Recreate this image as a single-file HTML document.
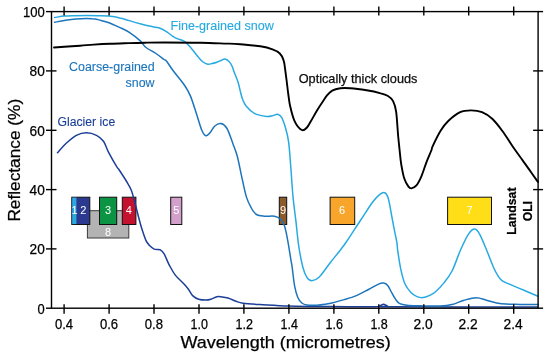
<!DOCTYPE html>
<html><head><meta charset="utf-8"><title>Spectral reflectance</title><style>html,body{margin:0;padding:0;background:#fff}</style></head><body>
<svg width="550" height="357" viewBox="0 0 550 357" style="display:block">
<rect width="550" height="357" fill="#fff"/>
<rect x="87.4" y="210.7" width="41.4" height="27.3" fill="#b3b3b3" stroke="#3a3a3a" stroke-width="1.0"/>
<rect x="71.8" y="197.2" width="18.0" height="27.3" fill="#2b3990" stroke="#111" stroke-width="1.0"/>
<rect x="72.2" y="197.6" width="4.2" height="26.5" fill="#29abe2"/>
<rect x="99.5" y="197.2" width="17.2" height="27.3" fill="#0b9444" stroke="#111" stroke-width="1.0"/>
<rect x="122.3" y="197.2" width="13.6" height="27.3" fill="#c4122f" stroke="#111" stroke-width="1.0"/>
<rect x="170.7" y="197.2" width="11.1" height="27.3" fill="#d3a0cc" stroke="#111" stroke-width="1.0"/>
<rect x="279.3" y="197.2" width="7.4" height="27.3" fill="#8c5a2b" stroke="#111" stroke-width="1.0"/>
<rect x="330.1" y="197.2" width="24.6" height="27.3" fill="#f7a62b" stroke="#111" stroke-width="1.0"/>
<rect x="447.6" y="197.2" width="43.9" height="27.3" fill="#ffde17" stroke="#111" stroke-width="1.0"/>
<g fill="none" stroke-linecap="round" stroke-linejoin="round">
<path d="M57.5,152.8C59.0,151.2 63.1,146.2 66.2,143.3C69.3,140.4 72.9,137.1 76.3,135.3C79.7,133.6 83.0,132.8 86.4,132.8C89.8,132.8 93.7,133.9 96.5,135.3C99.3,136.7 101.5,138.5 103.5,141.3C105.5,144.2 106.4,148.2 108.6,152.4C110.8,156.6 114.9,163.7 116.7,166.6C118.5,169.5 117.6,167.6 119.2,170.0C120.8,172.4 124.3,177.6 126.3,181.0C128.3,184.4 130.0,187.0 131.3,190.2C132.6,193.4 133.1,195.9 134.3,200.3C135.5,204.7 137.1,211.4 138.4,216.5C139.8,221.6 141.1,226.6 142.4,230.6C143.7,234.6 144.9,238.2 146.0,240.6C147.1,243.0 147.8,243.7 149.2,245.1C150.6,246.5 152.3,248.3 154.2,249.1C156.0,249.9 158.6,249.0 160.3,249.8C162.0,250.7 162.8,251.6 164.3,254.2C165.8,256.8 167.5,261.8 169.4,265.3C171.3,268.8 173.0,272.2 175.5,275.4C178.0,278.6 182.3,282.1 184.5,284.5C186.7,286.9 187.2,287.6 188.6,289.5C189.9,291.4 190.9,294.0 192.6,295.6C194.3,297.2 196.5,298.5 198.7,299.2C200.9,299.9 203.8,300.0 205.8,300.0C207.8,300.0 209.0,299.8 210.8,299.2C212.7,298.6 215.0,297.1 216.9,296.7C218.8,296.3 220.2,296.7 222.0,296.9C223.8,297.1 225.7,297.3 228.0,298.0C230.3,298.7 233.5,300.4 236.0,301.3C238.5,302.2 239.0,302.8 243.0,303.3C247.0,303.8 252.4,304.1 260.0,304.5C267.6,304.9 277.0,305.6 288.7,306.0C300.4,306.4 315.6,306.5 330.0,306.6C344.4,306.7 366.8,306.8 375.0,306.7C383.2,306.6 378.1,306.6 379.5,306.2C380.9,305.8 382.2,304.2 383.6,304.2C385.0,304.2 386.1,305.8 387.7,306.2C389.3,306.6 367.9,306.7 393.0,306.8C418.1,306.9 513.8,306.9 538.0,306.9" stroke="#1b3f98" stroke-width="1.5"/>
<path d="M54.6,22.3C56.2,22.0 60.9,21.0 64.5,20.4C68.1,19.8 71.4,19.2 76.0,18.9C80.6,18.6 87.8,18.4 92.0,18.7C96.2,18.9 98.3,19.8 101.0,20.4C103.7,21.0 105.0,21.3 108.2,22.5C111.4,23.7 116.5,26.0 120.0,27.6C123.5,29.2 126.0,30.2 129.3,32.4C132.6,34.6 137.2,38.1 140.0,40.6C142.8,43.1 143.3,45.4 146.0,47.5C148.7,49.6 153.0,51.5 156.0,53.5C159.0,55.5 162.3,58.2 164.0,59.5C165.7,60.8 164.8,59.1 166.4,61.0C168.0,62.9 170.4,67.0 173.4,71.0C176.4,75.0 181.6,81.1 184.5,85.3C187.4,89.5 188.6,91.5 190.6,96.4C192.6,101.3 194.8,108.9 196.7,114.5C198.5,120.1 200.2,126.5 201.7,130.0C203.2,133.6 204.5,135.3 205.8,135.8C207.2,136.3 208.3,134.6 209.8,133.0C211.3,131.4 212.9,127.6 214.8,126.0C216.7,124.4 219.0,123.2 221.0,123.6C223.0,124.0 225.0,125.1 227.0,128.5C229.0,131.9 231.3,139.4 233.0,144.0C234.7,148.6 235.8,150.9 237.2,156.0C238.6,161.1 239.7,167.5 241.2,174.3C242.7,181.1 244.6,191.0 246.3,196.6C248.0,202.2 249.6,205.0 251.3,208.0C253.0,211.0 254.2,213.1 256.4,214.5C258.6,215.9 261.4,215.9 264.4,216.2C267.4,216.5 271.8,215.7 274.5,216.2C277.2,216.7 278.9,217.5 280.6,219.2C282.3,220.9 283.4,222.8 284.6,226.3C285.8,229.8 286.7,235.0 287.7,240.4C288.7,245.8 290.0,254.3 290.7,258.6C291.4,262.9 291.3,261.6 292.0,266.2C292.7,270.8 293.7,281.2 294.7,286.4C295.7,291.6 296.6,294.7 297.8,297.5C299.0,300.3 300.3,301.8 301.8,303.0C303.3,304.2 304.4,304.6 306.9,305.0C309.4,305.4 314.0,305.3 317.0,305.2C320.0,305.1 322.5,304.7 325.0,304.3C327.5,303.9 328.8,303.8 332.0,303.0C335.2,302.2 340.1,300.8 344.2,299.6C348.3,298.4 352.3,297.3 356.4,295.6C360.4,293.9 364.8,291.4 368.5,289.5C372.2,287.6 376.1,285.2 378.6,284.1C381.1,283.0 382.1,282.9 383.6,283.1C385.1,283.3 386.4,283.9 387.7,285.5C389.0,287.1 390.3,290.2 391.7,292.6C393.1,295.0 394.4,297.8 395.8,299.6C397.2,301.5 398.0,302.8 399.8,303.7C401.6,304.6 403.5,304.9 406.9,305.3C410.3,305.7 414.5,305.7 420.0,305.8C425.5,305.9 434.7,306.2 440.0,306.0C445.3,305.8 448.0,305.6 452.0,304.6C456.0,303.6 460.1,301.3 464.2,300.2C468.3,299.1 472.7,297.8 476.4,297.8C480.1,297.8 483.1,299.4 486.5,300.3C489.9,301.2 493.4,302.4 496.6,303.0C499.9,303.6 502.1,303.9 506.0,304.1C509.9,304.3 514.7,304.3 520.0,304.4C525.3,304.5 535.0,304.5 538.0,304.5" stroke="#1c75bc" stroke-width="1.5"/>
<path d="M54.6,17.5C56.2,17.3 61.1,16.4 64.5,16.1C67.9,15.8 71.3,15.8 75.0,15.7C78.7,15.6 82.6,15.6 86.4,15.6C90.2,15.6 94.4,15.6 98.0,15.7C101.6,15.8 104.6,15.7 108.2,16.1C111.8,16.5 116.3,17.1 119.8,17.9C123.3,18.6 125.6,19.6 129.3,20.6C133.0,21.7 137.9,23.1 142.0,24.2C146.1,25.3 151.0,26.3 154.0,27.0C157.0,27.7 158.0,27.6 160.0,28.3C162.0,29.0 164.2,30.2 166.0,31.3C167.8,32.4 169.2,33.8 171.0,35.0C172.8,36.2 174.2,37.3 176.5,38.4C178.8,39.5 182.2,39.9 184.5,41.4C186.8,42.9 188.2,44.8 190.6,47.5C193.0,50.2 196.6,55.2 198.7,57.6C200.8,60.0 201.5,60.9 203.0,62.0C204.5,63.1 206.3,63.9 207.8,64.2C209.3,64.5 210.5,63.9 212.0,63.6C213.5,63.3 215.4,62.7 216.9,62.2C218.4,61.7 219.7,61.0 221.0,60.5C222.3,60.0 223.7,58.8 225.0,59.0C226.3,59.2 227.8,60.3 229.0,61.5C230.2,62.7 231.1,64.1 232.0,66.0C232.9,67.9 233.5,70.3 234.5,73.0C235.5,75.7 237.0,78.8 238.0,82.0C239.0,85.2 239.8,89.2 240.5,92.0C241.2,94.8 241.5,96.6 242.5,99.0C243.5,101.4 244.3,103.9 246.3,106.3C248.3,108.7 250.9,111.6 254.3,113.3C257.7,115.0 263.4,116.0 266.5,116.4C269.6,116.8 271.1,115.9 273.0,115.6C274.9,115.2 276.2,114.0 277.6,114.3C279.0,114.6 280.2,115.0 281.6,117.4C283.0,119.8 284.5,124.3 285.7,128.5C286.9,132.7 287.8,135.7 288.7,142.6C289.6,149.5 290.3,161.0 291.0,170.0C291.7,179.0 292.2,188.2 293.0,196.6C293.8,205.0 294.8,211.9 295.8,220.2C296.8,228.5 297.6,238.7 298.8,246.5C300.0,254.3 301.5,261.9 302.8,267.0C304.1,272.1 305.4,275.0 306.9,277.3C308.4,279.6 309.9,280.7 311.9,280.7C313.9,280.7 316.0,280.2 319.0,277.3C322.0,274.4 326.5,267.5 330.0,263.0C333.5,258.5 337.5,253.7 340.2,250.2C342.9,246.7 342.9,246.9 346.3,242.0C349.7,237.1 356.0,227.1 360.4,220.5C364.8,213.9 369.3,206.7 372.5,202.3C375.7,198.0 377.8,196.0 379.8,194.4C381.8,192.8 383.3,192.2 384.7,192.7C386.1,193.2 387.0,194.6 388.0,197.5C389.0,200.4 389.8,205.6 390.7,210.4C391.6,215.2 392.7,221.3 393.7,226.6C394.7,231.9 396.1,237.9 396.8,242.0C397.5,246.1 397.1,246.6 397.8,251.2C398.5,255.8 399.6,263.9 400.8,269.3C402.0,274.7 403.1,279.6 404.8,283.5C406.5,287.4 408.9,290.4 410.9,292.6C412.9,294.8 415.0,295.8 417.0,296.6C419.0,297.4 420.8,297.8 423.0,297.6C425.2,297.4 428.0,296.1 430.0,295.2C432.0,294.3 432.8,294.1 435.2,292.0C437.6,289.9 441.3,286.2 444.2,282.6C447.1,279.0 449.6,275.9 452.3,270.5C455.0,265.1 457.7,256.4 460.4,250.3C463.1,244.2 466.1,237.6 468.5,234.1C470.9,230.6 472.6,229.1 474.5,229.1C476.4,229.1 477.6,230.6 479.6,234.1C481.6,237.6 484.4,244.7 486.7,250.3C489.0,255.9 491.9,263.7 493.7,267.8C495.5,271.9 496.2,273.1 497.6,275.2C499.0,277.3 499.9,279.1 502.0,280.6C504.1,282.1 506.3,282.8 510.0,284.4C513.7,286.0 519.3,288.3 524.0,290.3C528.7,292.3 535.7,295.2 538.0,296.2" stroke="#27aae1" stroke-width="1.5"/>
<path d="M54.0,47.5C58.3,47.2 73.4,46.2 80.0,45.7C86.6,45.2 88.6,44.9 93.6,44.6C98.6,44.3 104.1,44.0 110.0,43.8C115.9,43.5 123.2,43.3 129.0,43.1C134.8,42.9 139.0,42.8 145.0,42.7C151.0,42.6 155.7,42.5 165.0,42.5C174.3,42.5 190.4,42.6 200.7,42.8C211.0,43.0 220.4,43.4 227.0,43.6C233.6,43.8 234.6,43.8 240.2,44.2C245.8,44.7 255.0,45.4 260.4,46.3C265.8,47.1 269.3,48.1 272.5,49.3C275.7,50.5 277.8,51.4 279.6,53.3C281.5,55.1 282.7,57.5 283.6,60.4C284.6,63.3 284.8,66.9 285.3,70.5C285.8,74.1 286.3,77.9 286.8,82.0C287.3,86.1 287.8,91.0 288.4,95.0C289.0,99.0 289.1,101.9 290.2,106.3C291.2,110.7 292.8,117.5 294.7,121.4C296.6,125.4 299.8,129.0 301.8,130.0C303.8,131.0 305.4,129.0 306.9,127.5C308.4,126.0 309.3,123.8 311.0,121.0C312.7,118.2 315.0,113.8 317.0,110.5C319.0,107.2 321.3,103.7 323.0,101.2C324.7,98.7 325.5,97.2 327.0,95.4C328.5,93.6 330.0,91.8 332.2,90.6C334.4,89.4 337.3,88.7 340.3,88.3C343.3,87.9 346.0,88.0 350.4,88.3C354.8,88.6 361.6,89.5 366.6,90.3C371.7,91.1 377.1,92.3 380.7,93.3C384.3,94.2 385.9,94.7 388.0,96.0C390.1,97.3 391.7,98.4 393.1,101.1C394.5,103.8 395.4,106.3 396.2,112.2C397.0,118.1 397.6,130.2 398.2,136.5C398.8,142.8 399.1,145.4 399.6,150.0C400.1,154.6 400.4,159.4 401.2,164.1C402.0,168.8 403.0,174.6 404.2,178.3C405.4,182.0 407.1,184.7 408.3,186.4C409.5,188.1 410.0,188.6 411.3,188.4C412.6,188.2 414.7,187.4 416.4,185.4C418.1,183.4 419.7,180.2 421.4,176.3C423.1,172.4 424.8,166.5 426.5,162.1C428.2,157.7 430.5,152.6 431.5,150.0C432.5,147.4 431.0,149.8 432.5,146.6C434.0,143.4 438.0,135.0 440.6,130.8C443.2,126.6 444.7,124.3 448.0,121.2C451.3,118.1 456.4,114.0 460.2,112.2C464.0,110.4 467.4,110.4 471.0,110.4C474.6,110.4 478.4,110.7 482.0,112.1C485.6,113.5 489.1,115.8 492.5,119.0C495.9,122.2 499.2,126.7 502.6,131.3C506.0,135.9 509.3,141.6 512.7,146.5C516.1,151.4 519.8,156.3 522.8,160.6C525.8,164.8 528.4,168.4 530.9,172.0C533.4,175.6 536.8,180.3 538.0,182.0" stroke="#000" stroke-width="1.9"/>
</g>
<g stroke="#000" stroke-width="1.4" fill="none">
<rect x="51.5" y="11.6" width="486.6" height="296.6"/>
<path d="M64.1,304.2V313.8"/>
<path d="M64.1,6.6V15.6"/>
<path d="M109.1,304.2V313.8"/>
<path d="M109.1,6.6V15.6"/>
<path d="M154.0,304.2V313.8"/>
<path d="M154.0,6.6V15.6"/>
<path d="M199.0,304.2V313.8"/>
<path d="M199.0,6.6V15.6"/>
<path d="M243.9,304.2V313.8"/>
<path d="M243.9,6.6V15.6"/>
<path d="M288.9,304.2V313.8"/>
<path d="M288.9,6.6V15.6"/>
<path d="M333.9,304.2V313.8"/>
<path d="M333.9,6.6V15.6"/>
<path d="M378.8,304.2V313.8"/>
<path d="M378.8,6.6V15.6"/>
<path d="M423.8,304.2V313.8"/>
<path d="M423.8,6.6V15.6"/>
<path d="M468.7,304.2V313.8"/>
<path d="M468.7,6.6V15.6"/>
<path d="M513.7,304.2V313.8"/>
<path d="M513.7,6.6V15.6"/>
<path d="M46.0,308.2H51.5"/>
<path d="M538.1,308.2H543.1"/>
<path d="M46.0,248.9H56.5"/>
<path d="M533.1,248.9H543.1"/>
<path d="M46.0,189.6H56.5"/>
<path d="M533.1,189.6H543.1"/>
<path d="M46.0,130.3H56.5"/>
<path d="M533.1,130.3H543.1"/>
<path d="M46.0,70.9H56.5"/>
<path d="M533.1,70.9H543.1"/>
<path d="M46.0,11.6H51.5"/>
<path d="M538.1,11.6H543.1"/>
</g>
<g font-family="'Liberation Sans', sans-serif" fill="#000" stroke="#000" stroke-width="0.25">
<text x="73.1" y="328.6" font-size="14.3" text-anchor="end" textLength="18.2" lengthAdjust="spacingAndGlyphs">0.4</text>
<text x="118.1" y="328.6" font-size="14.3" text-anchor="end" textLength="18.2" lengthAdjust="spacingAndGlyphs">0.6</text>
<text x="163.0" y="328.6" font-size="14.3" text-anchor="end" textLength="18.2" lengthAdjust="spacingAndGlyphs">0.8</text>
<text x="208.0" y="328.6" font-size="14.3" text-anchor="end" textLength="17.4" lengthAdjust="spacingAndGlyphs">1.0</text>
<text x="252.9" y="328.6" font-size="14.3" text-anchor="end" textLength="17.4" lengthAdjust="spacingAndGlyphs">1.2</text>
<text x="297.9" y="328.6" font-size="14.3" text-anchor="end" textLength="17.4" lengthAdjust="spacingAndGlyphs">1.4</text>
<text x="342.9" y="328.6" font-size="14.3" text-anchor="end" textLength="17.4" lengthAdjust="spacingAndGlyphs">1.6</text>
<text x="387.8" y="328.6" font-size="14.3" text-anchor="end" textLength="17.4" lengthAdjust="spacingAndGlyphs">1.8</text>
<text x="432.8" y="328.6" font-size="14.3" text-anchor="end" textLength="19.2" lengthAdjust="spacingAndGlyphs">2.0</text>
<text x="477.7" y="328.6" font-size="14.3" text-anchor="end" textLength="19.2" lengthAdjust="spacingAndGlyphs">2.2</text>
<text x="522.7" y="328.6" font-size="14.3" text-anchor="end" textLength="19.2" lengthAdjust="spacingAndGlyphs">2.4</text>
<text x="44.8" y="313.6" font-size="14.5" text-anchor="end" textLength="7.2" lengthAdjust="spacingAndGlyphs">0</text>
<text x="44.8" y="254.2" font-size="14.5" text-anchor="end" textLength="15.2" lengthAdjust="spacingAndGlyphs">20</text>
<text x="44.8" y="194.9" font-size="14.5" text-anchor="end" textLength="15.2" lengthAdjust="spacingAndGlyphs">40</text>
<text x="44.8" y="135.6" font-size="14.5" text-anchor="end" textLength="15.2" lengthAdjust="spacingAndGlyphs">60</text>
<text x="44.8" y="76.2" font-size="14.5" text-anchor="end" textLength="15.2" lengthAdjust="spacingAndGlyphs">80</text>
<text x="44.8" y="16.9" font-size="14.5" text-anchor="end" textLength="21.8" lengthAdjust="spacingAndGlyphs">100</text>
<text x="180.5" y="348.4" font-size="17" textLength="210.3" lengthAdjust="spacingAndGlyphs">Wavelength (micrometres)</text>
<text transform="translate(20.0,221.6) rotate(-90)" font-size="17" textLength="122.8" lengthAdjust="spacingAndGlyphs">Reflectance (%)</text>
<text x="298.7" y="83.3" font-size="13" textLength="118.7" lengthAdjust="spacingAndGlyphs" fill="#111">Optically thick clouds</text>
<text x="170.5" y="29.6" font-size="12.3" textLength="103.2" lengthAdjust="spacingAndGlyphs" fill="#27aae1" stroke="#27aae1" stroke-width="0.12">Fine-grained snow</text>
<text x="69" y="71" font-size="12.3" textLength="85.7" lengthAdjust="spacingAndGlyphs" fill="#1c75bc" stroke="#1c75bc" stroke-width="0.12">Coarse-grained</text>
<text x="125.6" y="87" font-size="12.3" textLength="29" lengthAdjust="spacingAndGlyphs" fill="#1c75bc" stroke="#1c75bc" stroke-width="0.12">snow</text>
<text x="57.5" y="125.8" font-size="12.3" textLength="57.7" lengthAdjust="spacingAndGlyphs" fill="#1b3f98" stroke="#1b3f98" stroke-width="0.12">Glacier ice</text>
<text transform="translate(516.0,234.7) rotate(-90)" font-size="13.6" font-weight="bold" textLength="47.2" lengthAdjust="spacingAndGlyphs" fill="#000">Landsat</text>
<text transform="translate(531.7,221.3) rotate(-90)" font-size="13.6" font-weight="bold" textLength="20.3" lengthAdjust="spacingAndGlyphs" fill="#000">OLI</text>
<text x="74.5" y="214.4" font-size="11" text-anchor="middle" stroke="none" fill="#fff">1</text>
<text x="83.3" y="214.4" font-size="11" text-anchor="middle" stroke="none" fill="#fff">2</text>
<text x="108.0" y="214.4" font-size="11" text-anchor="middle" stroke="none" fill="#fff">3</text>
<text x="128.8" y="214.4" font-size="11" text-anchor="middle" stroke="none" fill="#fff">4</text>
<text x="176.2" y="214.4" font-size="11" text-anchor="middle" stroke="none" fill="#fff">5</text>
<text x="283.0" y="214.4" font-size="11" text-anchor="middle" stroke="none" fill="#fff">9</text>
<text x="342.0" y="214.4" font-size="11" text-anchor="middle" stroke="none" fill="#fff">6</text>
<text x="469.6" y="214.4" font-size="11" text-anchor="middle" stroke="none" fill="#fff">7</text>
<text x="108.0" y="235.5" font-size="11" text-anchor="middle" stroke="none" fill="#fff">8</text>
</g>
</svg>
</body></html>
